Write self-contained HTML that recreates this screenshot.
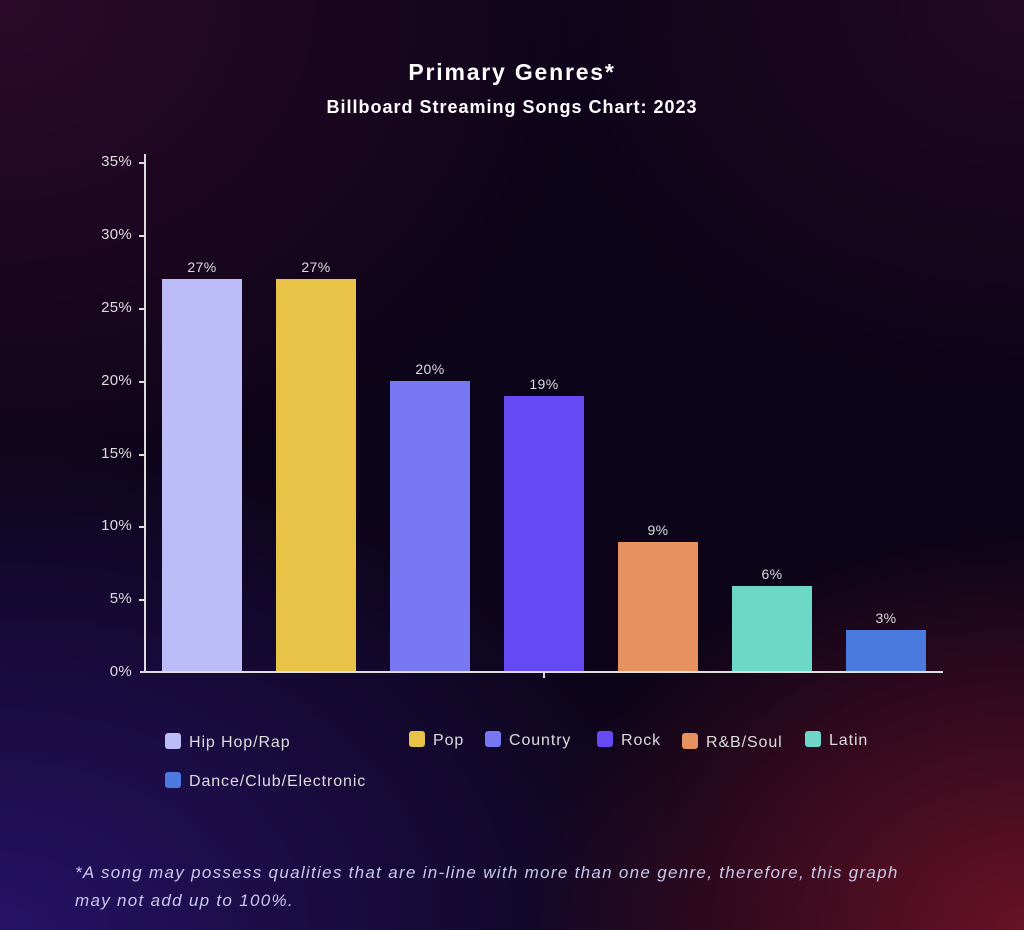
<!DOCTYPE html>
<html><head><meta charset="utf-8"><style>
html,body{margin:0;padding:0}
body{width:1024px;height:930px;overflow:hidden;position:relative;font-family:"Liberation Sans",sans-serif;color:#eee;
background:
radial-gradient(ellipse 500px 400px at 1024px 930px,rgba(120,20,40,0.85),rgba(120,20,40,0) 100%),
radial-gradient(ellipse 700px 500px at 0px 930px,rgba(40,20,110,0.9),rgba(40,20,110,0) 100%),
radial-gradient(ellipse 600px 500px at 0px 0px,rgba(50,10,45,0.85),rgba(50,10,45,0) 100%),
radial-gradient(ellipse 500px 400px at 1024px 0px,rgba(45,10,40,0.7),rgba(45,10,40,0) 100%),
#0c0418;}
.t{position:absolute;left:0;width:1024px;text-align:center;font-weight:bold;color:#fff}
.yl{position:absolute;left:90px;width:42px;text-align:right;font-size:15px;color:#ddd;letter-spacing:0.3px}
.bar{position:absolute;width:80px}
.v{position:absolute;width:80px;text-align:center;font-size:14px;color:#ddd;letter-spacing:0.4px}
.lg{position:absolute;font-size:16px;color:#ddd;letter-spacing:0.9px}
.lg i{display:inline-block;width:16px;height:16px;border-radius:3px;vertical-align:-2px;margin-right:8px}
</style></head><body>
<div class="t" style="top:59px;font-size:23px;letter-spacing:1.8px">Primary Genres*</div>
<div class="t" style="top:97px;font-size:18px;letter-spacing:1px">Billboard Streaming Songs Chart: 2023</div>
<div style="position:absolute;left:144px;top:154px;width:2px;height:519px;background:#ddd"></div>
<div style="position:absolute;left:140px;top:671px;width:803px;height:2px;background:#ddd"></div>
<div style="position:absolute;left:543px;top:672px;width:2px;height:6px;background:#ddd"></div>
<div class="yl" style="top:153px">35%</div>
<div class="yl" style="top:226px">30%</div>
<div class="yl" style="top:299px">25%</div>
<div class="yl" style="top:372px">20%</div>
<div class="yl" style="top:445px">15%</div>
<div class="yl" style="top:517px">10%</div>
<div class="yl" style="top:590px">5%</div>
<div class="yl" style="top:663px">0%</div>
<div style="position:absolute;left:139px;top:162px;width:6px;height:2px;background:#ddd"></div>
<div style="position:absolute;left:139px;top:235px;width:6px;height:2px;background:#ddd"></div>
<div style="position:absolute;left:139px;top:308px;width:6px;height:2px;background:#ddd"></div>
<div style="position:absolute;left:139px;top:381px;width:6px;height:2px;background:#ddd"></div>
<div style="position:absolute;left:139px;top:454px;width:6px;height:2px;background:#ddd"></div>
<div style="position:absolute;left:139px;top:526px;width:6px;height:2px;background:#ddd"></div>
<div style="position:absolute;left:139px;top:599px;width:6px;height:2px;background:#ddd"></div>

<div class="bar" style="left:162px;top:279px;height:392px;background:#bcbcf8"></div>
<div class="bar" style="left:276px;top:279px;height:392px;background:#e8c348"></div>
<div class="bar" style="left:390px;top:381px;height:290px;background:#7879f2"></div>
<div class="bar" style="left:504px;top:396px;height:275px;background:#6549f2"></div>
<div class="bar" style="left:618px;top:542px;height:129px;background:#e59160"></div>
<div class="bar" style="left:732px;top:586px;height:85px;background:#6dd8c8"></div>
<div class="bar" style="left:846px;top:630px;height:41px;background:#4a7ae0"></div>
<div class="v" style="left:162px;top:259px">27%</div>
<div class="v" style="left:276px;top:259px">27%</div>
<div class="v" style="left:390px;top:361px">20%</div>
<div class="v" style="left:504px;top:376px">19%</div>
<div class="v" style="left:618px;top:522px">9%</div>
<div class="v" style="left:732px;top:566px">6%</div>
<div class="v" style="left:846px;top:610px">3%</div>

<div class="lg" style="left:165px;top:733px"><i style="background:#bcbcf8"></i>Hip Hop/Rap</div>
<div class="lg" style="left:409px;top:731px"><i style="background:#e8c348"></i>Pop</div>
<div class="lg" style="left:485px;top:731px"><i style="background:#7879f2"></i>Country</div>
<div class="lg" style="left:597px;top:731px"><i style="background:#6549f2"></i>Rock</div>
<div class="lg" style="left:682px;top:733px"><i style="background:#e59160"></i>R&amp;B/Soul</div>
<div class="lg" style="left:805px;top:731px"><i style="background:#6dd8c8"></i>Latin</div>
<div class="lg" style="left:165px;top:772px"><i style="background:#4a7ae0"></i>Dance/Club/Electronic</div>

<div style="position:absolute;left:75px;top:859px;font-size:17px;letter-spacing:1.3px;font-style:italic;color:#c8c8ec;line-height:28px;width:900px;white-space:nowrap">*A song may possess qualities that are in-line with more than one genre, therefore, this graph<br>may not add up to 100%.</div>
</body></html>
